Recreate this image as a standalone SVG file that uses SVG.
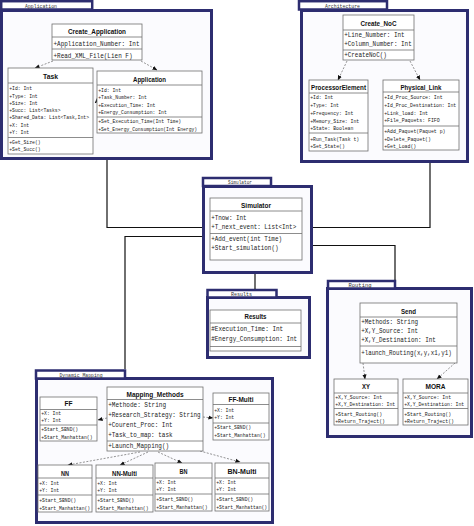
<svg xmlns="http://www.w3.org/2000/svg" width="474" height="526" viewBox="0 0 474 526">
<style>
.pkg{fill:#fbfbfe;stroke:#2d2d70;stroke-width:3}
.tab{fill:#fff;stroke:#2d2d70;stroke-width:2.5}
.cls{fill:#fff;stroke:#707070;stroke-width:0.8}
.sep{stroke:#707070;stroke-width:0.8}
.ttl{font-family:"Liberation Sans",Arial,sans-serif;font-weight:bold;font-size:8px;fill:#111;text-anchor:middle}
.a{font-family:"Liberation Mono","Courier New",monospace;font-size:5.5px;fill:#222}
.b{font-family:"Liberation Mono","Courier New",monospace;font-size:7.2px;fill:#222}
.tl{font-family:"Liberation Mono","Courier New",monospace;font-size:5px;fill:#333;text-anchor:middle}
.dash{stroke:#666;stroke-width:0.7;stroke-dasharray:2 1.5;fill:none;marker-end:url(#ah)}
.conn{stroke:#111;stroke-width:1.2;fill:none}
</style>
<defs>
<marker id="ah" viewBox="0 0 6 6" refX="5.5" refY="3" markerWidth="5" markerHeight="5" orient="auto" markerUnits="userSpaceOnUse">
<path d="M0,0.5 L6,3 L0,5.5 Z" fill="#111"/>
</marker>
</defs>
<rect width="474" height="526" fill="#fff"/>

<!-- Packages -->
<g id="pkg-application">
<rect class="pkg" x="1.5" y="10.5" width="210" height="148"/>
<rect class="tab" x="1.2" y="1.2" width="91" height="8.3"/>
<text class="tl" x="41" y="7.5" textLength="32" lengthAdjust="spacingAndGlyphs">Application</text>
</g>
<g id="pkg-architecture">
<rect class="pkg" x="301.5" y="10.5" width="166" height="151"/>
<rect class="tab" x="299" y="1.2" width="88" height="8.3"/>
<text class="tl" x="342.5" y="7.5" textLength="35" lengthAdjust="spacingAndGlyphs">Architecture</text>
</g>
<g id="pkg-simulator">
<rect class="pkg" x="203.5" y="186.5" width="108" height="86"/>
<rect class="tab" x="203" y="178" width="68" height="8"/>
<text class="tl" x="240" y="184" textLength="24" lengthAdjust="spacingAndGlyphs">Simulator</text>
</g>
<g id="pkg-results">
<rect class="pkg" x="207.5" y="297.5" width="102" height="60"/>
<rect class="tab" x="207.5" y="290" width="69" height="7.5"/>
<text class="tl" x="241.5" y="295.5" textLength="21" lengthAdjust="spacingAndGlyphs">Results</text>
</g>
<g id="pkg-routing">
<rect class="pkg" x="327.5" y="288.5" width="144" height="148"/>
<rect class="tab" x="328" y="281" width="67" height="7.5"/>
<text class="tl" x="360" y="286.5" textLength="23" lengthAdjust="spacingAndGlyphs">Routing</text>
</g>
<g id="pkg-dynamic-mapping">
<rect class="pkg" x="36.5" y="378.5" width="236" height="144"/>
<rect class="tab" x="36" y="370.5" width="89" height="8"/>
<text class="tl" x="81" y="376.5" textLength="43" lengthAdjust="spacingAndGlyphs">Dynamic Mapping</text>
</g>

<!-- Connectors -->
<g id="connectors">
<path class="conn" d="M107,160 V227.5 H202"/>
<path class="conn" d="M430,163 V227.5 H313"/>
<path class="conn" d="M202,236.5 H125 V369"/>
<path class="conn" d="M313,245.5 H395 V280"/>
<path class="conn" d="M255,274 V289"/>
<path class="dash" d="M53,61 L35,68"/>
<path class="dash" d="M141,61 L157,70"/>
<path class="conn" d="M97,101 L95,103" style="stroke-width:0.6;marker-end:url(#ah)"/>
<path class="dash" d="M347,61 L338,80"/>
<path class="dash" d="M410,61 L420,80"/>
<path class="dash" d="M363,363 L365,379"/>
<path class="dash" d="M455,363 L437,379"/>
<path class="dash" d="M107,418 L98,420"/>
<path class="dash" d="M203,417 L213,418"/>
<path class="dash" d="M140,452 L68,465"/>
<path class="dash" d="M148,452 L120,465"/>
<path class="dash" d="M158,452 L182,463"/>
<path class="dash" d="M200,451 L240,462"/>
</g>

<!-- Application package classes -->
<g id="Create_Application">
<rect class="cls" x="52" y="24" width="90" height="36"/>
<line class="sep" x1="52" y1="37" x2="142" y2="37"/>
<line class="sep" x1="52" y1="49" x2="142" y2="49"/>
<text class="ttl" x="97" y="34" textLength="58" lengthAdjust="spacingAndGlyphs">Create_Application</text>
<text class="b" x="53.5" y="46" textLength="86" lengthAdjust="spacingAndGlyphs">+Application_Number: Int</text>
<text class="b" x="53.5" y="57.5" textLength="79" lengthAdjust="spacingAndGlyphs">+Read_XML_File(Lien F)</text>
</g>
<g id="Task">
<rect class="cls" x="8" y="68" width="85" height="86"/>
<line class="sep" x1="8" y1="83" x2="93" y2="83"/>
<line class="sep" x1="8" y1="137.5" x2="93" y2="137.5"/>
<text class="ttl" x="50.5" y="79" textLength="15" lengthAdjust="spacingAndGlyphs">Task</text>
<text class="a" x="9.2" y="90" textLength="22.8" lengthAdjust="spacingAndGlyphs">+Id: Int</text>
<text class="a" x="9.2" y="97.5" textLength="28.5" lengthAdjust="spacingAndGlyphs">+Type: Int</text>
<text class="a" x="9.2" y="104.5" textLength="28.5" lengthAdjust="spacingAndGlyphs">+Size: Int</text>
<text class="a" x="9.2" y="111.5" textLength="51.3" lengthAdjust="spacingAndGlyphs">+Succ: List&lt;Tasks&gt;</text>
<text class="a" x="9.2" y="119" textLength="79.8" lengthAdjust="spacingAndGlyphs">+Shared_Data: List&lt;Task,Int&gt;</text>
<text class="a" x="9.2" y="126.5" textLength="20" lengthAdjust="spacingAndGlyphs">+X: Int</text>
<text class="a" x="9.2" y="133.5" textLength="20" lengthAdjust="spacingAndGlyphs">+Y: Int</text>
<text class="a" x="9.2" y="144" textLength="31.4" lengthAdjust="spacingAndGlyphs">+Get_Size()</text>
<text class="a" x="9.2" y="151" textLength="31.4" lengthAdjust="spacingAndGlyphs">+Set_Succ()</text>
</g>
<g id="Application">
<rect class="cls" x="97" y="71" width="105" height="62"/>
<line class="sep" x1="97" y1="85" x2="202" y2="85"/>
<line class="sep" x1="97" y1="117" x2="202" y2="117"/>
<text class="ttl" x="149.5" y="81.5" textLength="33" lengthAdjust="spacingAndGlyphs">Application</text>
<text class="a" x="98.2" y="91.5" textLength="22.9" lengthAdjust="spacingAndGlyphs">+Id: Int</text>
<text class="a" x="98.2" y="99" textLength="48.6" lengthAdjust="spacingAndGlyphs">+Task_Number: Int</text>
<text class="a" x="98.2" y="106.5" textLength="57.2" lengthAdjust="spacingAndGlyphs">+Execution_Time: Int</text>
<text class="a" x="98.2" y="114" textLength="68.6" lengthAdjust="spacingAndGlyphs">+Energy_Consumption: Int</text>
<text class="a" x="98.2" y="123" textLength="83" lengthAdjust="spacingAndGlyphs">+Set_Execution_Time(Int Time)</text>
<text class="a" x="98.2" y="130.5" textLength="99" lengthAdjust="spacingAndGlyphs">+Set_Energy_Consumption(Int Energy)</text>
</g>

<!-- Architecture package classes -->
<g id="Create_NoC">
<rect class="cls" x="343" y="15" width="71" height="45"/>
<line class="sep" x1="343" y1="30" x2="414" y2="30"/>
<line class="sep" x1="343" y1="50" x2="414" y2="50"/>
<text class="ttl" x="378.5" y="26" textLength="36" lengthAdjust="spacingAndGlyphs">Create_NoC</text>
<text class="b" x="344.2" y="37" textLength="60.4" lengthAdjust="spacingAndGlyphs">+Line_Number: Int</text>
<text class="b" x="344.2" y="46" textLength="67.5" lengthAdjust="spacingAndGlyphs">+Column_Number: Int</text>
<text class="b" x="344.2" y="57" textLength="42.6" lengthAdjust="spacingAndGlyphs">+CreateNoC()</text>
</g>
<g id="ProcessorElement">
<rect class="cls" x="309" y="80" width="59" height="71"/>
<line class="sep" x1="309" y1="93" x2="368" y2="93"/>
<line class="sep" x1="309" y1="133" x2="368" y2="133"/>
<text class="ttl" x="338.5" y="90" textLength="55" lengthAdjust="spacingAndGlyphs">ProcessorElement</text>
<text class="a" x="310.2" y="99" textLength="23" lengthAdjust="spacingAndGlyphs">+Id: Int</text>
<text class="a" x="310.2" y="107" textLength="28.8" lengthAdjust="spacingAndGlyphs">+Type: Int</text>
<text class="a" x="310.2" y="115" textLength="43.2" lengthAdjust="spacingAndGlyphs">+Frequency: Int</text>
<text class="a" x="310.2" y="122.5" textLength="49" lengthAdjust="spacingAndGlyphs">+Memory_Size: Int</text>
<text class="a" x="310.2" y="130" textLength="43.2" lengthAdjust="spacingAndGlyphs">+State: Boolean</text>
<text class="a" x="310.2" y="140.5" textLength="49" lengthAdjust="spacingAndGlyphs">+Run_Task(Task t)</text>
<text class="a" x="310.2" y="148" textLength="34.6" lengthAdjust="spacingAndGlyphs">+Set_State()</text>
</g>
<g id="Physical_Link">
<rect class="cls" x="383" y="80" width="76" height="70"/>
<line class="sep" x1="383" y1="92" x2="459" y2="92"/>
<line class="sep" x1="383" y1="126" x2="459" y2="126"/>
<text class="ttl" x="421" y="90" textLength="41" lengthAdjust="spacingAndGlyphs">Physical_Link</text>
<text class="a" x="384.2" y="99" textLength="58.4" lengthAdjust="spacingAndGlyphs">+Id_Proc_Source: Int</text>
<text class="a" x="384.2" y="107" textLength="72" lengthAdjust="spacingAndGlyphs">+Id_Proc_Destination: Int</text>
<text class="a" x="384.2" y="114.5" textLength="43.8" lengthAdjust="spacingAndGlyphs">+Link_load: Int</text>
<text class="a" x="384.2" y="122" textLength="55.5" lengthAdjust="spacingAndGlyphs">+File_Paquets: FIFO</text>
<text class="a" x="384.2" y="133" textLength="61.3" lengthAdjust="spacingAndGlyphs">+Add_Paquet(Paquet p)</text>
<text class="a" x="384.2" y="140.5" textLength="46.7" lengthAdjust="spacingAndGlyphs">+Delete_Paquet()</text>
<text class="a" x="384.2" y="147.5" textLength="32.1" lengthAdjust="spacingAndGlyphs">+Get_Load()</text>
</g>

<!-- Simulator -->
<g id="Simulator">
<rect class="cls" x="210" y="198" width="92" height="62"/>
<line class="sep" x1="210" y1="211" x2="302" y2="211"/>
<line class="sep" x1="210" y1="233.5" x2="302" y2="233.5"/>
<text class="ttl" x="256" y="208" textLength="30" lengthAdjust="spacingAndGlyphs">Simulator</text>
<text class="b" x="211.2" y="220" textLength="35.4" lengthAdjust="spacingAndGlyphs">+Tnow: Int</text>
<text class="b" x="211.2" y="229" textLength="85" lengthAdjust="spacingAndGlyphs">+T_next_event: List&lt;Int&gt;</text>
<text class="b" x="211.2" y="241" textLength="70.8" lengthAdjust="spacingAndGlyphs">+Add_event(int Time)</text>
<text class="b" x="211.2" y="249.5" textLength="67.3" lengthAdjust="spacingAndGlyphs">+Start_simulation()</text>
</g>

<!-- Results -->
<g id="Results">
<rect class="cls" x="210" y="310" width="91" height="41"/>
<line class="sep" x1="210" y1="323" x2="301" y2="323"/>
<line class="sep" x1="210" y1="346.5" x2="301" y2="346.5"/>
<text class="ttl" x="255.5" y="319" textLength="22" lengthAdjust="spacingAndGlyphs">Results</text>
<text class="b" x="211.2" y="331" textLength="72" lengthAdjust="spacingAndGlyphs">#Execution_Time: Int</text>
<text class="b" x="211.2" y="341" textLength="86" lengthAdjust="spacingAndGlyphs">#Energy_Consumption: Int</text>
</g>

<!-- Routing -->
<g id="Send">
<rect class="cls" x="360" y="303" width="97" height="60"/>
<line class="sep" x1="360" y1="317" x2="457" y2="317"/>
<line class="sep" x1="360" y1="346" x2="457" y2="346"/>
<text class="ttl" x="408.5" y="313.5" textLength="15" lengthAdjust="spacingAndGlyphs">Send</text>
<text class="b" x="361.2" y="323.5" textLength="56.8" lengthAdjust="spacingAndGlyphs">+Methods: String</text>
<text class="b" x="361.2" y="333" textLength="56.8" lengthAdjust="spacingAndGlyphs">+X,Y_Source: Int</text>
<text class="b" x="361.2" y="342" textLength="74.6" lengthAdjust="spacingAndGlyphs">+X,Y_Destination: Int</text>
<text class="b" x="361.2" y="355" textLength="90.5" lengthAdjust="spacingAndGlyphs">+launch_Routing(x,y,x1,y1)</text>
</g>
<g id="XY">
<rect class="cls" x="334" y="379" width="64" height="46"/>
<line class="sep" x1="334" y1="393" x2="398" y2="393"/>
<line class="sep" x1="334" y1="408.5" x2="398" y2="408.5"/>
<text class="ttl" x="366" y="389" textLength="8" lengthAdjust="spacingAndGlyphs">XY</text>
<text class="a" x="335.2" y="399" textLength="46.9" lengthAdjust="spacingAndGlyphs">+X,Y_Source: Int</text>
<text class="a" x="335.2" y="405.5" textLength="60" lengthAdjust="spacingAndGlyphs">+X,Y_Destination: Int</text>
<text class="a" x="335.2" y="416" textLength="46.9" lengthAdjust="spacingAndGlyphs">+Start_Routing()</text>
<text class="a" x="335.2" y="423" textLength="49.8" lengthAdjust="spacingAndGlyphs">+Return_Traject()</text>
</g>
<g id="MORA">
<rect class="cls" x="403" y="379" width="65" height="46"/>
<line class="sep" x1="403" y1="393" x2="468" y2="393"/>
<line class="sep" x1="403" y1="408.5" x2="468" y2="408.5"/>
<text class="ttl" x="435.5" y="389" textLength="20" lengthAdjust="spacingAndGlyphs">MORA</text>
<text class="a" x="404.2" y="399" textLength="46.9" lengthAdjust="spacingAndGlyphs">+X,Y_Source: Int</text>
<text class="a" x="404.2" y="405.5" textLength="60" lengthAdjust="spacingAndGlyphs">+X,Y_Destination: Int</text>
<text class="a" x="404.2" y="416" textLength="46.9" lengthAdjust="spacingAndGlyphs">+Start_Routing()</text>
<text class="a" x="404.2" y="423" textLength="49.8" lengthAdjust="spacingAndGlyphs">+Return_Traject()</text>
</g>

<!-- Dynamic Mapping -->
<g id="Mapping_Methods">
<rect class="cls" x="107" y="387" width="96" height="64"/>
<line class="sep" x1="107" y1="399.5" x2="203" y2="399.5"/>
<line class="sep" x1="107" y1="441" x2="203" y2="441"/>
<text class="ttl" x="155" y="397" textLength="57" lengthAdjust="spacingAndGlyphs">Mapping_Methods</text>
<text class="b" x="108.2" y="407" textLength="57.9" lengthAdjust="spacingAndGlyphs">+Methode: String</text>
<text class="b" x="108.2" y="417" textLength="92.5" lengthAdjust="spacingAndGlyphs">+Research_Strategy: String</text>
<text class="b" x="108.2" y="427" textLength="64.4" lengthAdjust="spacingAndGlyphs">+Courent_Proc: Int</text>
<text class="b" x="108.2" y="436.5" textLength="64.4" lengthAdjust="spacingAndGlyphs">+Task_to_map: task</text>
<text class="b" x="108.2" y="448" textLength="60.9" lengthAdjust="spacingAndGlyphs">+Launch_Mapping()</text>
</g>
<g id="FF">
<rect class="cls" x="40" y="397" width="57" height="44"/>
<line class="sep" x1="40" y1="409.5" x2="97" y2="409.5"/>
<line class="sep" x1="40" y1="425" x2="97" y2="425"/>
<text class="ttl" x="68.5" y="406" textLength="8" lengthAdjust="spacingAndGlyphs">FF</text>
<text class="a" x="41.2" y="415" textLength="20" lengthAdjust="spacingAndGlyphs">+X: Int</text>
<text class="a" x="41.2" y="422" textLength="20" lengthAdjust="spacingAndGlyphs">+Y: Int</text>
<text class="a" x="41.2" y="431" textLength="37" lengthAdjust="spacingAndGlyphs">+Start_SBND()</text>
<text class="a" x="41.2" y="438.5" textLength="51.3" lengthAdjust="spacingAndGlyphs">+Start_Manhattan()</text>
</g>
<g id="FF-Multi">
<rect class="cls" x="213" y="393" width="56" height="47"/>
<line class="sep" x1="213" y1="404.5" x2="269" y2="404.5"/>
<line class="sep" x1="213" y1="423" x2="269" y2="423"/>
<text class="ttl" x="241" y="401.5" textLength="25" lengthAdjust="spacingAndGlyphs">FF-Multi</text>
<text class="a" x="214.2" y="411.5" textLength="20" lengthAdjust="spacingAndGlyphs">+X: Int</text>
<text class="a" x="214.2" y="419" textLength="20" lengthAdjust="spacingAndGlyphs">+Y: Int</text>
<text class="a" x="214.2" y="429" textLength="37" lengthAdjust="spacingAndGlyphs">+Start_SBND()</text>
<text class="a" x="214.2" y="436.5" textLength="51.3" lengthAdjust="spacingAndGlyphs">+Start_Manhattan()</text>
</g>
<g id="NN">
<rect class="cls" x="38" y="465" width="54" height="47"/>
<line class="sep" x1="38" y1="478" x2="92" y2="478"/>
<line class="sep" x1="38" y1="495" x2="92" y2="495"/>
<text class="ttl" x="65" y="475.5" textLength="8" lengthAdjust="spacingAndGlyphs">NN</text>
<text class="a" x="39.2" y="484.5" textLength="20" lengthAdjust="spacingAndGlyphs">+X: Int</text>
<text class="a" x="39.2" y="491.5" textLength="20" lengthAdjust="spacingAndGlyphs">+Y: Int</text>
<text class="a" x="39.2" y="501.5" textLength="37" lengthAdjust="spacingAndGlyphs">+Start_SBND()</text>
<text class="a" x="39.2" y="509.5" textLength="51" lengthAdjust="spacingAndGlyphs">+Start_Manhattan()</text>
</g>
<g id="NN-Multi">
<rect class="cls" x="96" y="465" width="57" height="47"/>
<line class="sep" x1="96" y1="478" x2="153" y2="478"/>
<line class="sep" x1="96" y1="495" x2="153" y2="495"/>
<text class="ttl" x="124.5" y="475.5" textLength="25" lengthAdjust="spacingAndGlyphs">NN-Multi</text>
<text class="a" x="97.2" y="484.5" textLength="20" lengthAdjust="spacingAndGlyphs">+X: Int</text>
<text class="a" x="97.2" y="491.5" textLength="20" lengthAdjust="spacingAndGlyphs">+Y: Int</text>
<text class="a" x="97.2" y="501.5" textLength="37" lengthAdjust="spacingAndGlyphs">+Start_SBND()</text>
<text class="a" x="97.2" y="509.5" textLength="51.3" lengthAdjust="spacingAndGlyphs">+Start_Manhattan()</text>
</g>
<g id="BN">
<rect class="cls" x="155" y="463" width="57" height="48"/>
<line class="sep" x1="155" y1="478" x2="212" y2="478"/>
<line class="sep" x1="155" y1="494" x2="212" y2="494"/>
<text class="ttl" x="183.5" y="474" textLength="8" lengthAdjust="spacingAndGlyphs">BN</text>
<text class="a" x="156.2" y="484" textLength="20" lengthAdjust="spacingAndGlyphs">+X: Int</text>
<text class="a" x="156.2" y="491" textLength="20" lengthAdjust="spacingAndGlyphs">+Y: Int</text>
<text class="a" x="156.2" y="500.5" textLength="37" lengthAdjust="spacingAndGlyphs">+Start_SBND()</text>
<text class="a" x="156.2" y="508.5" textLength="51.3" lengthAdjust="spacingAndGlyphs">+Start_Manhattan()</text>
</g>
<g id="BN-Multi">
<rect class="cls" x="215" y="463" width="54" height="48"/>
<line class="sep" x1="215" y1="478" x2="269" y2="478"/>
<line class="sep" x1="215" y1="494" x2="269" y2="494"/>
<text class="ttl" x="242" y="474" textLength="29" lengthAdjust="spacingAndGlyphs">BN-Multi</text>
<text class="a" x="216.2" y="484" textLength="20" lengthAdjust="spacingAndGlyphs">+X: Int</text>
<text class="a" x="216.2" y="491" textLength="20" lengthAdjust="spacingAndGlyphs">+Y: Int</text>
<text class="a" x="216.2" y="500.5" textLength="37" lengthAdjust="spacingAndGlyphs">+Start_SBND()</text>
<text class="a" x="216.2" y="508.5" textLength="51" lengthAdjust="spacingAndGlyphs">+Start_Manhattan()</text>
</g>
</svg>
